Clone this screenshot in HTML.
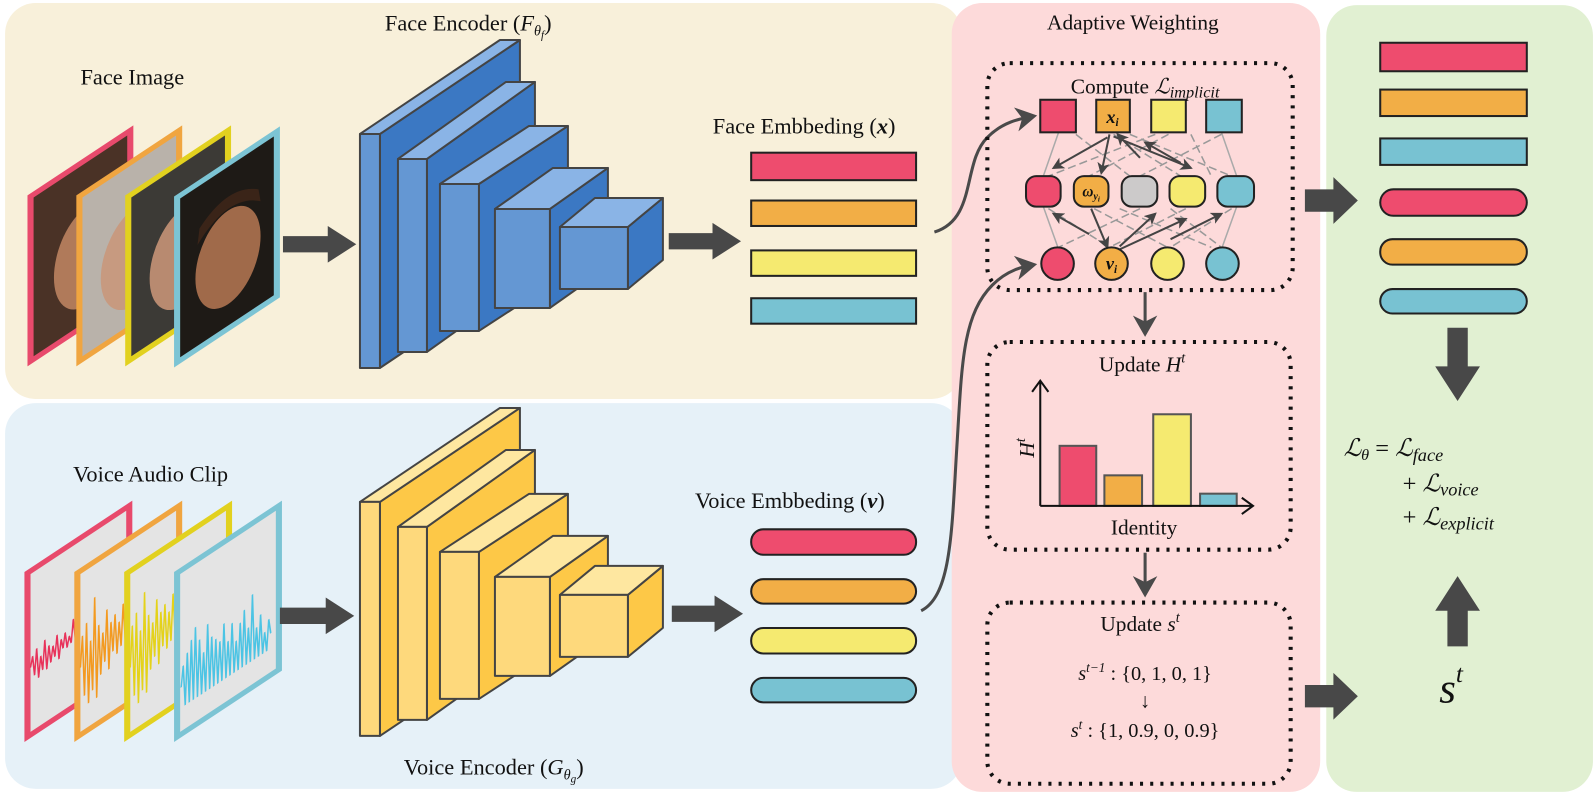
<!DOCTYPE html>
<html><head><meta charset="utf-8"><style>
html,body{margin:0;padding:0;background:#fff;}
svg{display:block;}
text{font-family:"Liberation Serif",serif;fill:#111;}
</style></head><body>
<svg width="1595" height="797" viewBox="0 0 1567 783" xmlns="http://www.w3.org/2000/svg">
<defs>
<marker id="ah" markerWidth="8" markerHeight="8" refX="6" refY="4" orient="auto" markerUnits="strokeWidth">
<path d="M0,0 L7,4 L0,8 L2,4 z" fill="#4a4a4a"/></marker>
<marker id="sa" markerWidth="6" markerHeight="6" refX="5" refY="3" orient="auto" markerUnits="strokeWidth">
<path d="M0,0 L6,3 L0,6 L1.5,3 z" fill="#444"/></marker>
</defs>
<rect x="5" y="3" width="940" height="389" rx="30" fill="#f8f0da"/>
<rect x="5" y="396" width="940" height="379" rx="30" fill="#e6f1f8"/>
<rect x="935" y="3" width="362" height="775" rx="30" fill="#fddada"/>
<rect x="1303" y="5" width="262" height="773" rx="30" fill="#e1f0d2"/>

<text x="130" y="83" font-size="22" text-anchor="middle">Face Image</text>
<text x="460" y="30" font-size="22" text-anchor="middle">Face Encoder (<tspan font-style="italic">F</tspan><tspan font-size="14" dy="5" font-style="italic">θ</tspan><tspan font-size="11" dy="3" font-style="italic">f</tspan><tspan dy="-8">)</tspan></text>
<text x="790" y="131" font-size="22" text-anchor="middle">Face Embbeding (<tspan font-weight="bold" font-style="italic">x</tspan>)</text>
<text x="148" y="473" font-size="22" text-anchor="middle">Voice Audio Clip</text>
<text x="485" y="761" font-size="22" text-anchor="middle">Voice Encoder (<tspan font-style="italic">G</tspan><tspan font-size="14" dy="5" font-style="italic">θ</tspan><tspan font-size="11" dy="3" font-style="italic">g</tspan><tspan dy="-8">)</tspan></text>
<text x="776" y="499" font-size="22" text-anchor="middle">Voice Embbeding (<tspan font-weight="bold" font-style="italic">v</tspan>)</text>
<text x="1113" y="29" font-size="21" text-anchor="middle">Adaptive Weighting</text>

<g stroke-width="6">
<g transform="translate(30,193) skewY(-33.5)"><rect width="98" height="162" fill="#4a3226" stroke="#e84a6c"/><ellipse cx="55" cy="95" rx="32" ry="48" fill="#b07a5a"/></g>
<g transform="translate(78,193) skewY(-33.5)"><rect width="98" height="162" fill="#b9b2aa" stroke="#f0a540"/><ellipse cx="55" cy="95" rx="34" ry="48" fill="#c79a80"/></g>
<g transform="translate(126,193) skewY(-33.5)"><rect width="98" height="162" fill="#3c3a36" stroke="#e2d11f"/><ellipse cx="55" cy="95" rx="34" ry="48" fill="#b88a70"/></g>
<g transform="translate(174,194) skewY(-33.5)"><rect width="98" height="162" fill="#1e1a16" stroke="#7cc4d4"/><ellipse cx="50" cy="92" rx="32" ry="46" fill="#a06a4a"/><path d="M20,60 Q50,30 82,58 L80,45 Q50,20 22,45z" fill="#3a2418"/></g>
</g>
<g stroke-width="6">
<g transform="translate(27,563) skewY(-33.5)"><rect width="100" height="161" fill="#e4e4e4" stroke="#e84a6c"/><path d="M3,95 l2,-10 l2,20 l2,-25 l2,30 l2,-20 l2,15 l2,-28 l2,30 l2,-22 l2,18 l2,-15 l2,12 l2,-20 l2,25 l2,-18 l2,10 l2,-14 l2,16 l2,-10 l2,8 l2,-22 l2,20 l2,-12 l2,10" fill="none" stroke="#e8325a" stroke-width="1.5"/></g>
<g transform="translate(76,563) skewY(-33.5)"><rect width="100" height="161" fill="#e4e4e4" stroke="#f0a540"/><path d="M3,95 l2,-30 l2,60 l2,-70 l2,80 l2,-60 l2,50 l2,-90 l2,100 l2,-70 l2,50 l2,-40 l2,30 l2,-50 l2,60 l2,-45 l2,30 l2,-35 l2,40 l2,-30 l2,25 l2,-40 l2,35 l2,-25 l2,20 l2,-30 l2,25 l2,-15 l2,10 l2,-20 l2,25 l2,-15 l2,10" fill="none" stroke="#f39a20" stroke-width="1.5"/></g>
<g transform="translate(125,563) skewY(-33.5)"><rect width="100" height="161" fill="#e4e4e4" stroke="#e2d11f"/><path d="M3,95 l2,-40 l2,70 l2,-80 l2,90 l2,-70 l2,60 l2,-95 l2,100 l2,-75 l2,55 l2,-45 l2,35 l2,-55 l2,65 l2,-50 l2,35 l2,-40 l2,45 l2,-35 l2,30 l2,-45 l2,40 l2,-30 l2,25 l2,-35 l2,30 l2,-20 l2,15 l2,-25 l2,20" fill="none" stroke="#e4d21a" stroke-width="1.5"/></g>
<g transform="translate(174,563) skewY(-33.5)"><rect width="100" height="161" fill="#e4e4e4" stroke="#7cc4d4"/><path d="M4,90 l2,-20 l2,40 l2,-50 l2,50 l2,-60 l2,60 l2,-70 l2,70 l2,-55 l2,55 l2,-40 l2,40 l2,-65 l2,65 l2,-50 l2,50 l2,-45 l2,45 l2,-40 l2,40 l2,-55 l2,55 l2,-35 l2,35 l2,-50 l2,50 l2,-30 l2,30 l2,-45 l2,45 l2,-55 l2,55 l2,-35 l2,35 l2,-65 l2,65 l2,-30 l2,30 l2,-40 l2,40 l2,-20 l2,20 l2,-30 l2,15" fill="none" stroke="#4cc4e4" stroke-width="1.5" transform="translate(0,25)"/></g>
</g>

<g transform="scale(0.9823)" stroke="#444" stroke-width="2" stroke-linejoin="round">
<g>
<polygon points="380,134 520,40 520,274 380,368" fill="#3b78c3"/><polygon points="360,134 500,40 520,40 380,134" fill="#8ab4e6"/><rect x="360" y="134" width="20" height="234" fill="#6497d3"/>
<polygon points="427,159 535,82 535,275 427,352" fill="#3b78c3"/><polygon points="398,159 506,82 535,82 427,159" fill="#8ab4e6"/><rect x="398" y="159" width="29" height="193" fill="#6497d3"/>
<polygon points="479,184 568,126 568,273 479,331" fill="#3b78c3"/><polygon points="440,184 529,126 568,126 479,184" fill="#8ab4e6"/><rect x="440" y="184" width="39" height="147" fill="#6497d3"/>
<polygon points="550,209 608,168 608,267 550,308" fill="#3b78c3"/><polygon points="495,209 553,168 608,168 550,209" fill="#8ab4e6"/><rect x="495" y="209" width="55" height="99" fill="#6497d3"/>
<polygon points="628,227 663,198 663,260 628,289" fill="#3b78c3"/><polygon points="560,227 595,198 663,198 628,227" fill="#8ab4e6"/><rect x="560" y="227" width="68" height="62" fill="#6497d3"/>
</g>
<g transform="translate(0,368)">
<polygon points="380,134 520,40 520,274 380,368" fill="#fdc847"/><polygon points="360,134 500,40 520,40 380,134" fill="#fee7a0"/><rect x="360" y="134" width="20" height="234" fill="#fed97c"/>
<polygon points="427,159 535,82 535,275 427,352" fill="#fdc847"/><polygon points="398,159 506,82 535,82 427,159" fill="#fee7a0"/><rect x="398" y="159" width="29" height="193" fill="#fed97c"/>
<polygon points="479,184 568,126 568,273 479,331" fill="#fdc847"/><polygon points="440,184 529,126 568,126 479,184" fill="#fee7a0"/><rect x="440" y="184" width="39" height="147" fill="#fed97c"/>
<polygon points="550,209 608,168 608,267 550,308" fill="#fdc847"/><polygon points="495,209 553,168 608,168 550,209" fill="#fee7a0"/><rect x="495" y="209" width="55" height="99" fill="#fed97c"/>
<polygon points="628,227 663,198 663,260 628,289" fill="#fdc847"/><polygon points="560,227 595,198 663,198 628,227" fill="#fee7a0"/><rect x="560" y="227" width="68" height="62" fill="#fed97c"/>
</g>
</g>

<g fill="#484848">
<polygon points="278,232 322,232 322,222 350,240 322,258 322,248 278,248"/>
<polygon points="657,229 700,229 700,219 728,237 700,255 700,245 657,245"/>
<polygon points="275,597 320,597 320,587 348,605 320,623 320,613 275,613"/>
<polygon points="660,595 702,595 702,585 730,603 702,621 702,611 660,611"/>
<polygon points="1282,186 1310,186 1310,174 1334,197 1310,220 1310,208 1282,208"/>
<polygon points="1282,673 1310,673 1310,661 1334,684 1310,707 1310,695 1282,695"/>
<polygon points="1422,322 1442,322 1442,360 1454,360 1432,394 1410,360 1422,360"/>
<polygon points="1422,635 1442,635 1442,600 1454,600 1432,566 1410,600 1422,600"/>
</g>

<g stroke="#222" stroke-width="2">
<rect x="738" y="150" width="162" height="27" fill="#ee4c6e"/>
<rect x="738" y="197" width="162" height="25" fill="#f2ae46"/>
<rect x="738" y="246" width="162" height="25" fill="#f5ea70"/>
<rect x="738" y="293" width="162" height="25" fill="#78c2d2"/>
<rect x="738" y="520" width="162" height="25" rx="12" fill="#ee4c6e"/>
<rect x="738" y="569" width="162" height="24" rx="12" fill="#f2ae46"/>
<rect x="738" y="617" width="162" height="25" rx="12" fill="#f5ea70"/>
<rect x="738" y="666" width="162" height="24" rx="12" fill="#78c2d2"/>
<rect x="1356" y="42" width="144" height="28" fill="#ee4c6e"/>
<rect x="1356" y="88" width="144" height="26" fill="#f2ae46"/>
<rect x="1356" y="136" width="144" height="26" fill="#78c2d2"/>
<rect x="1356" y="186" width="144" height="26" rx="13" fill="#ee4c6e"/>
<rect x="1356" y="235" width="144" height="25" rx="12" fill="#f2ae46"/>
<rect x="1356" y="284" width="144" height="24" rx="12" fill="#78c2d2"/>
</g>

<g fill="none" stroke="#4a4a4a" stroke-width="3">
<path d="M918,228 C960,215 945,160 970,135 C985,120 1000,117 1016,114" marker-end="url(#ah)"/>
<path d="M905,600 C935,585 935,520 940,440 C945,360 945,310 975,280 C990,265 1005,262 1016,260" marker-end="url(#ah)"/>
</g>

<g fill="none" stroke="#111" stroke-width="4" stroke-dasharray="3,7">
<rect x="970" y="62" width="300" height="223" rx="22"/>
<rect x="970" y="336" width="298" height="204" rx="22"/>
<rect x="970" y="592" width="298" height="178" rx="22"/>
</g>
<g stroke="#4a4a4a" stroke-width="3" fill="none">
<path d="M1125,287 V328" marker-end="url(#ah)"/>
<path d="M1125,543 V584" marker-end="url(#ah)"/>
</g>

<g stroke="#aaa" stroke-width="1.5" fill="none">
<path d="M1040,130 L1025,173 M1200,130 L1215,173 M1025,203 L1039,242 M1215,203 L1201,242"/>
</g>
<g stroke="#999" stroke-width="1.5" fill="none" stroke-dasharray="8,4">
<path d="M1057,132 L1110,173 M1094,132 L1160,173 M1148,132 L1070,173 M1200,132 L1120,173 M1110,132 L1210,173 M1135,132 L1030,173 M1170,132 L1190,173"/>
<path d="M1030,205 L1090,243 M1075,205 L1147,243 M1120,205 L1040,243 M1165,205 L1090,243 M1210,205 L1150,243 M1150,205 L1200,243 M1100,205 L1190,243"/>
</g>
<g stroke="#444" stroke-width="2" fill="none">
<path d="M1090,132 L1082,170" marker-end="url(#sa)"/>
<path d="M1088,135 L1035,165" marker-end="url(#sa)"/>
<path d="M1094,134 L1170,165" marker-end="url(#sa)"/>
<path d="M1120,155 L1098,132" marker-end="url(#sa)"/>
<path d="M1160,160 L1125,140" marker-end="url(#sa)"/>
<path d="M1072,205 L1088,243" marker-end="url(#sa)"/>
<path d="M1070,230 L1035,210" marker-end="url(#sa)"/>
<path d="M1100,242 L1135,210" marker-end="url(#sa)"/>
<path d="M1100,245 L1165,215" marker-end="url(#sa)"/>
<path d="M1150,235 L1200,210" marker-end="url(#sa)"/>
</g>
<g stroke="#222" stroke-width="2">
<rect x="1022" y="98" width="35" height="32" fill="#ee4c6e"/>
<rect x="1077" y="98" width="33" height="32" fill="#f2ae46"/>
<rect x="1131" y="98" width="34" height="32" fill="#f5ea70"/>
<rect x="1185" y="98" width="35" height="32" fill="#78c2d2"/>
<rect x="1008" y="173" width="34" height="30" rx="10" fill="#ee4c6e"/>
<rect x="1055" y="173" width="34" height="30" rx="10" fill="#f2ae46"/>
<rect x="1102" y="173" width="35" height="30" rx="10" fill="#cccaca"/>
<rect x="1149" y="173" width="35" height="30" rx="10" fill="#f5ea70"/>
<rect x="1196" y="173" width="36" height="30" rx="10" fill="#78c2d2"/>
<circle cx="1039" cy="259" r="16" fill="#ee4c6e"/>
<circle cx="1092" cy="259" r="16" fill="#f2ae46"/>
<circle cx="1147" cy="259" r="16" fill="#f5ea70"/>
<circle cx="1201" cy="259" r="16" fill="#78c2d2"/>
</g>
<text x="1093" y="121" font-size="18" text-anchor="middle" font-weight="bold" font-style="italic">x<tspan font-size="11" dy="3">i</tspan></text>
<text x="1072" y="193" font-size="15" text-anchor="middle" font-weight="bold" font-style="italic">ω<tspan font-size="10" dy="3">y<tspan font-size="7" dy="2">i</tspan></tspan></text>
<text x="1092" y="265" font-size="18" text-anchor="middle" font-weight="bold" font-style="italic">v<tspan font-size="11" dy="3">i</tspan></text>
<text x="1125" y="92" font-size="21" text-anchor="middle">Compute <tspan font-style="italic">ℒ</tspan><tspan font-size="16" dy="4" font-style="italic">implicit</tspan></text>

<text x="1122" y="365" font-size="21" text-anchor="middle">Update <tspan font-style="italic">H</tspan><tspan font-size="14" dy="-9" font-style="italic">t</tspan></text>
<g stroke="#555" stroke-width="2">
<rect x="1041" y="438" width="36" height="59" fill="#ee4c6e"/>
<rect x="1085" y="467" width="37" height="30" fill="#f2ae46"/>
<rect x="1133" y="407" width="37" height="90" fill="#f5ea70"/>
<rect x="1179" y="485" width="36" height="12" fill="#78c2d2"/>
</g>
<g stroke="#111" stroke-width="2" fill="none">
<path d="M1022,497 V375 M1014,385 L1022,374 L1030,385"/>
<path d="M1022,497 H1230 M1220,489 L1231,497 L1220,505"/>
</g>
<text x="1016" y="440" font-size="21" text-anchor="middle" font-style="italic" transform="rotate(-90 1016 440)">H<tspan font-size="14" dy="-9">t</tspan></text>
<text x="1124" y="525" font-size="21" text-anchor="middle">Identity</text>

<text x="1120" y="620" font-size="21" text-anchor="middle">Update <tspan font-style="italic">s</tspan><tspan font-size="14" dy="-9" font-style="italic">t</tspan></text>
<text x="1125" y="668" font-size="20" text-anchor="middle"><tspan font-style="italic">s</tspan><tspan font-size="13" dy="-8" font-style="italic">t−1</tspan><tspan dy="8"> : {0, 1, 0, 1}</tspan></text>
<text x="1125" y="695" font-size="20" text-anchor="middle">↓</text>
<text x="1125" y="724" font-size="20" text-anchor="middle"><tspan font-style="italic">s</tspan><tspan font-size="13" dy="-8" font-style="italic">t</tspan><tspan dy="8"> : {1, 0.9, 0, 0.9}</tspan></text>

<text x="1320" y="448" font-size="24"><tspan font-style="italic">ℒ</tspan><tspan font-size="16" dy="4" font-style="italic">θ</tspan><tspan dy="-4"> = </tspan><tspan font-style="italic">ℒ</tspan><tspan font-size="18" dy="5" font-style="italic">face</tspan></text>
<text x="1378" y="483" font-size="24">+ <tspan font-style="italic">ℒ</tspan><tspan font-size="18" dy="4" font-style="italic">voice</tspan></text>
<text x="1378" y="516" font-size="24">+ <tspan font-style="italic">ℒ</tspan><tspan font-size="18" dy="4" font-style="italic">explicit</tspan></text>
<text x="1414" y="690" font-size="42" font-style="italic">s<tspan font-size="25" dy="-20">t</tspan></text>
</svg>
</body></html>
